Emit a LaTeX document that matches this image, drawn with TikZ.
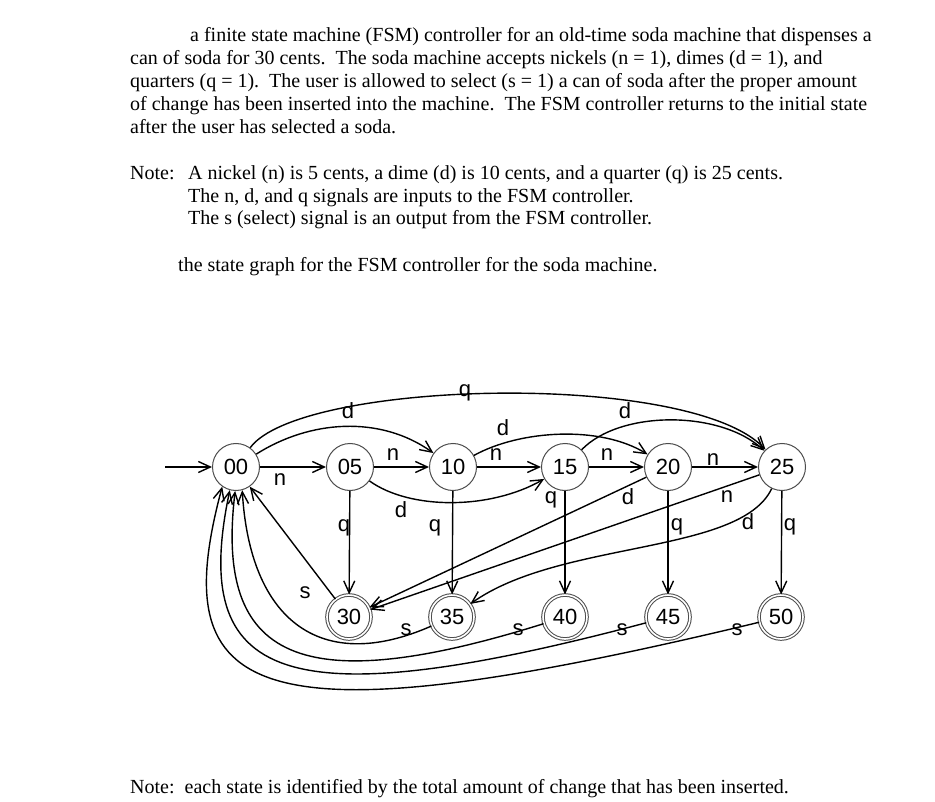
\documentclass[tikz,border=0pt]{standalone}
\usepackage{fontspec}
\setmainfont{Liberation Serif}
\newfontfamily\gsans{Liberation Sans}
\usetikzlibrary{arrows.meta}
\begin{document}
\begin{tikzpicture}[x=1pt,y=-1pt,
  txt/.style={anchor=base west,inner sep=0,font=\fontsize{20}{24}\selectfont},
  st/.style={circle,draw=black!70,line width=1pt,minimum size=47pt,inner sep=0,font=\gsans\fontsize{22}{26}\selectfont},
  acc/.style={st,double=white,double distance=1.6pt,minimum size=44pt},
  lab/.style={font=\gsans\fontsize{22}{26}\selectfont,inner sep=1pt},
  edge/.style={line width=1.4pt,-{Straight Barb[length=12pt,width=11pt]}}]
\useasboundingbox (0,0) rectangle (935,802);
\fill[white] (0,0) rectangle (935,802);
% text
\node[txt] (t1) at (190,42) {a finite state machine (FSM) controller for an old-time soda machine that dispenses a};
\node[txt] (t2) at (130,65) {can of soda for 30 cents.\ \ The soda machine accepts nickels (n = 1), dimes (d = 1), and};
\node[txt] (t3) at (130,88) {quarters (q = 1).\ \ The user is allowed to select (s = 1) a can of soda after the proper amount};
\node[txt] (t4) at (130,111) {of change has been inserted into the machine.\ \ The FSM controller returns to the initial state};
\node[txt] (t5) at (130,134) {after the user has selected a soda.};
\node[txt] (t6) at (130,180) {Note:};
\node[txt] (t7) at (188,180) {A nickel (n) is 5 cents, a dime (d) is 10 cents, and a quarter (q) is 25 cents.};
\node[txt] (t8) at (188,203) {The n, d, and q signals are inputs to the FSM controller.};
\node[txt] (t9) at (188,225) {The s (select) signal is an output from the FSM controller.};
\node[txt] (t10) at (178,272) {the state graph for the FSM controller for the soda machine.};
\node[txt] (t11) at (130,793) {Note:\ \ each state is identified by the total amount of change that has been inserted.};
% states
\node[st] (s00) at (236,467) {00};
\node[st] (s05) at (350,467) {05};
\node[st] (s10) at (453,467) {10};
\node[st] (s15) at (565,467) {15};
\node[st] (s20) at (668,467) {20};
\node[st] (s25) at (782,467) {25};
\node[acc] (s30) at (349,617) {30};
\node[acc] (s35) at (452,617) {35};
\node[acc] (s40) at (565,617) {40};
\node[acc] (s45) at (668,617) {45};
\node[acc] (s50) at (781,617) {50};
\coordinate (init) at (165,467);
% edges
\draw[edge] (init) -- (s00);
\draw[edge] (s00) -- (s05);
\draw[edge] (s05) -- (s10);
\draw[edge] (s10) -- (s15);
\draw[edge] (s15) -- (s20);
\draw[edge] (s20) -- (s25);
\draw[edge] (s05) -- (s30);
\draw[edge] (s10) -- (s35);
\draw[edge] (s15) -- (s40);
\draw[edge] (s20) -- (s45);
\draw[edge] (s25) -- (s50);
\draw[edge] (s00) .. controls (310,420) and (380,415) .. (s10);
\draw[edge] (s00) .. controls (300,380) and (690,370) .. (s25);
\draw[edge] (s05) .. controls (410,510) and (490,510) .. (s15);
\draw[edge] (s10) .. controls (520,430) and (600,425) .. (s20);
\draw[edge] (s15) .. controls (620,410) and (720,410) .. (s25);
\draw[edge] (s20) -- (s30);
\draw[edge] (s25) -- (s30);
\draw[edge] (s25) .. controls (740,555) and (560,540) .. (s35);
\draw[edge] (s30) -- (s00.305);
\draw[edge] (s35) .. controls (320,675) and (250,620) .. (s00.285);
\draw[edge] (s40) .. controls (300,700) and (215,660) .. (s00.268);
\draw[edge] (s45) .. controls (280,720) and (190,680) .. (s00.255);
\draw[edge] (s50) .. controls (250,745) and (165,700) .. (s00.235);
% labels
\node[lab] at (280,480) {n};
\node[lab] at (393,455) {n};
\node[lab] at (496,455) {n};
\node[lab] at (607,455) {n};
\node[lab] at (713,460) {n};
\node[lab] at (344,528) {q};
\node[lab] at (435,528) {q};
\node[lab] at (551,500) {q};
\node[lab] at (677,527) {q};
\node[lab] at (790,527) {q};
\node[lab] at (348,411) {d};
\node[lab] at (465,393) {q};
\node[lab] at (503,428) {d};
\node[lab] at (625,411) {d};
\node[lab] at (401,510) {d};
\node[lab] at (628,497) {d};
\node[lab] at (727,497) {n};
\node[lab] at (748,522) {d};
\node[lab] at (305,593) {s};
\node[lab] at (406,630) {s};
\node[lab] at (518,630) {s};
\node[lab] at (622,630) {s};
\node[lab] at (737,630) {s};
\end{tikzpicture}
\end{document}
